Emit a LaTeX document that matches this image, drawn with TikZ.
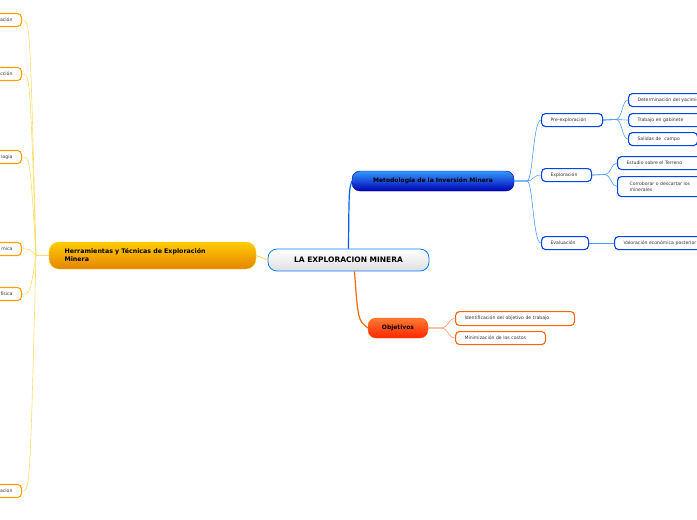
\documentclass[tikz,border=0pt]{standalone}
\usepackage{fontspec}
\setmainfont{DejaVu Sans}
\begin{document}
\begin{tikzpicture}[x=1pt,y=-1pt,
 leaf/.style={draw,line width=1.1pt,rounded corners=4pt,fill=white,font=\fontsize{4.6}{5.5}\selectfont,text=black!80,inner xsep=9pt,inner ysep=0pt,align=left,anchor=north west},
 yl/.style={leaf,draw=orange!75!yellow},
 bl/.style={leaf,draw=blue!70!cyan!90!black},
 rl/.style={leaf,draw=orange!80!red},
 ycon/.style={draw=yellow!60!orange!60,line width=0.6pt},
 bcon/.style={draw=blue!55!cyan!70,line width=0.6pt},
 rcon/.style={draw=orange!60!red!60,line width=0.6pt}]
\useasboundingbox (0,0) rectangle (697,520);
% center
\node[draw=blue!50!cyan,line width=0.8pt,rounded corners=9pt,top color=white,bottom color=gray!25,minimum width=161pt,minimum height=22pt,font=\bfseries\fontsize{7.5}{9}\selectfont] (c) at (348.5,260) {LA EXPLORACION MINERA};
% yellow hub
\node[draw=yellow!70!orange,rounded corners=10pt,top color=yellow!60!orange,bottom color=orange!85!yellow!90!black,minimum width=207pt,minimum height=27pt,font=\bfseries\fontsize{6.3}{8}\selectfont,text width=190pt,align=left,inner sep=0pt] (h) at (152.5,255.5) {\hspace*{7pt}Herramientas y Técnicas de Exploración\\\hspace*{7pt}Minera};
\draw[ycon,line width=1pt] (c.west) -- (h.east);
\foreach \y/\t [count=\i] in {20/ación,74/cción,157/logia,249/mica,294/física,491/acion}{
 \node[yl,anchor=east,minimum height=13pt,text width=42pt,align=right] (y\i) at (22,\y) {\t};
 \draw[ycon] (h.west) -- (36,255.5) .. controls (30,\y) .. (y\i.east);
}
% blue
\node[draw=blue!60!black,rounded corners=8pt,top color=blue!50!cyan!80,bottom color=blue!70!black,minimum width=162pt,minimum height=20pt,font=\bfseries\fontsize{6}{7}\selectfont] (m) at (433,181) {Metodología de la Inversión Minera};
\draw[draw=blue!60!cyan!90!black,line width=1.2pt] ([xshift=0pt]c.north) .. controls (349,190) .. (m.west);
\node[bl,text width=43pt,minimum height=13pt] (p) at (541,113) {Pre-exploración};
\node[bl,text width=32pt,minimum height=13pt] (e) at (541,168) {Exploración};
\node[bl,text width=29pt,minimum height=13pt] (v) at (541,236) {Evaluación};
\foreach \n in {p,e,v}{\draw[bcon] (m.east) -- (527,181) .. controls (533,181) and (533,0|-\n.west) .. (\n.west);}
\node[bl,text width=80pt,minimum height=13pt] (p1) at (628,93) {Determinación del yacimiento};
\node[bl,text width=62pt,minimum height=13pt] (p2) at (628,113) {Trabajo en gabinete};
\node[bl,text width=51pt,minimum height=13pt] (p3) at (628,132) {Salidas de \ campo};
\foreach \n in {p1,p2,p3}{\draw[bcon] (p.east) -- (616,119.5) .. controls (622,119.5) and (622,0|-\n.west) .. (\n.west);}
\node[bl,text width=72pt,minimum height=13pt] (e1) at (617,156) {Estudio sobre el Terreno};
\node[bl,inner xsep=12pt,text width=80pt,minimum height=20pt] (e2) at (617,176) {Corroborar o descartar los\\minerales};
\foreach \n in {e1,e2}{\draw[bcon] (e.east) -- (605,174.5) .. controls (611,174.5) and (611,0|-\n.west) .. (\n.west);}
\node[bl,text width=90pt,minimum height=13pt] (v1) at (614,236) {Valoración económica posterior};
\draw[bcon] (v.east) -- (v1.west);
% red
\node[draw=orange!80!red,rounded corners=8pt,top color=orange!70!red!80,bottom color=red!70!orange,minimum width=60pt,minimum height=20pt,font=\bfseries\fontsize{6}{7}\selectfont] (o) at (398,328) {Objetivos};
\draw[draw=orange!80!red,line width=1.2pt] ([xshift=6pt]c.south) .. controls (358,320) .. (o.west);
\node[rl,text width=101pt,minimum height=14pt] (o1) at (455,311) {Identificación del objetivo de trabajo};
\node[rl,text width=72pt,minimum height=13pt] (o2) at (455,331) {Minimización de los costos};
\foreach \n in {o1,o2}{\draw[rcon] (o.east) -- (442,328) .. controls (448,328) and (448,0|-\n.west) .. (\n.west);}
\end{tikzpicture}
\end{document}
